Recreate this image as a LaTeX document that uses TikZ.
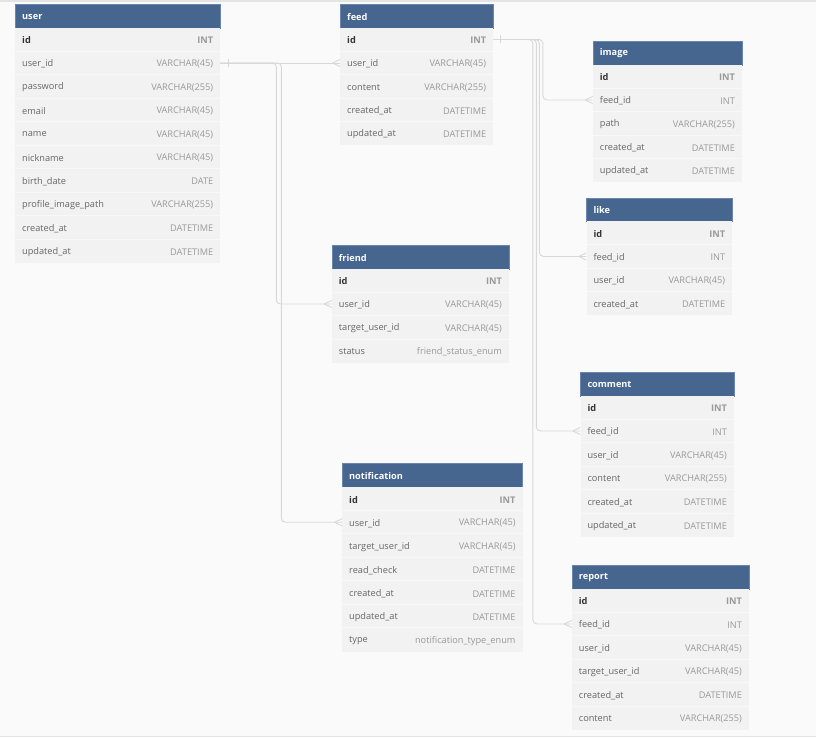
\documentclass[tikz,border=0pt]{standalone}
\usepackage{fontspec}
\setmainfont{Open Sans}
\definecolor{bgc}{HTML}{FAFAFA}
\definecolor{hdrc}{HTML}{46658F}
\definecolor{hdrb}{HTML}{6A86AD}
\definecolor{rowc}{HTML}{F2F2F2}
\definecolor{sepc}{HTML}{F8F8F8}
\definecolor{namec}{HTML}{666666}
\definecolor{typec}{HTML}{999999}
\definecolor{idc}{HTML}{333333}
\definecolor{connc}{HTML}{D8D8D8}
\definecolor{edgec}{HTML}{E4E4E4}
\tikzset{
  hdr/.style={rectangle, fill=hdrc, draw=hdrb, line width=0.6pt, minimum height=23.5pt, inner sep=0pt},
  hdrtext/.style={inner sep=0pt, text=white, font=\fontsize{9.2}{11}\selectfont\bfseries},
  rowbox/.style={rectangle, fill=rowc, minimum height=23.5pt, inner sep=0pt},
  fname/.style={inner sep=0pt, text=namec, font=\fontsize{9.2}{11}\selectfont},
  ftype/.style={inner sep=0pt, text=typec, font=\fontsize{9.2}{11}\selectfont},
  sepline/.style={draw=sepc, line width=0.8pt},
  conn/.style={draw=connc, line width=0.9pt},
  rconn/.style={conn, rounded corners=4pt}
}
\newcommand\erdtab[6]{%
  \pgfmathsetmacro\tw{#3-#2}%
  \node[hdr, minimum width=\tw pt, anchor=north west] (#1) at (#2,#4) {};
  \node[hdrtext, anchor=west] (#1-title) at ([xshift=7pt, yshift=-0.5pt]#1.west) {#5};
  \foreach \nm/\ty [count=\i] in {#6} {
    \pgfmathsetmacro\yy{#4+23.5*\i}
    \node[rowbox, minimum width=\tw pt, anchor=north west] (#1-\i) at (#2,\yy) {};
    \ifnum\i>1 \draw[sepline] (#1-\i.north west) -- (#1-\i.north east);\fi
    \node[fname, anchor=west] (#1-\i-n) at ([xshift=7pt, yshift=-1pt]#1-\i.west) {\ifnum\i=1 \bfseries\color{idc}\fi\nm};
    \node[ftype, anchor=east] (#1-\i-t) at ([xshift=-7pt, yshift=-1pt]#1-\i.east) {\ifnum\i=1 \bfseries\fi\ty};
  }
}
\newcommand\crowat[1]{%
  \draw[conn] ([xshift=-7.5pt]#1.west) -- ([yshift=3.5pt]#1.west)
              ([xshift=-7.5pt]#1.west) -- ([yshift=-3.5pt]#1.west);}
\newcommand\tickat[2]{%
  \draw[conn] ([xshift=#2pt, yshift=4pt]#1.east) -- ([xshift=#2pt, yshift=-4pt]#1.east);}
\begin{document}
\begin{tikzpicture}[x=1pt,y=-1pt]
\useasboundingbox (0,0) rectangle (816,737);
\fill[bgc] (0,0) rectangle (816,737);
\fill[edgec] (0,0) rectangle (816,2);
\draw[edgec, line width=0.8pt] (0,736) -- (816,736);

\erdtab{user}{15}{220}{4}{user}{id/INT, user\_id/VARCHAR(45), password/VARCHAR(255), email/VARCHAR(45), name/VARCHAR(45), nickname/VARCHAR(45), birth\_date/DATE, profile\_image\_path/VARCHAR(255), created\_at/DATETIME, updated\_at/DATETIME}
\erdtab{feed}{340}{493}{4}{feed}{id/INT, user\_id/VARCHAR(45), content/VARCHAR(255), created\_at/DATETIME, updated\_at/DATETIME}
\erdtab{image}{592.7}{741.7}{41}{image}{id/INT, feed\_id/INT, path/VARCHAR(255), created\_at/DATETIME, updated\_at/DATETIME}
\erdtab{like}{586.3}{732}{197.5}{like}{id/INT, feed\_id/INT, user\_id/VARCHAR(45), created\_at/DATETIME}
\erdtab{friend}{331.7}{508.7}{245}{friend}{id/INT, user\_id/VARCHAR(45), target\_user\_id/VARCHAR(45), status/friend\_status\_enum}
\erdtab{comment}{580.3}{733.7}{372}{comment}{id/INT, feed\_id/INT, user\_id/VARCHAR(45), content/VARCHAR(255), created\_at/DATETIME, updated\_at/DATETIME}
\erdtab{notification}{342}{522.3}{463.3}{notification}{id/INT, user\_id/VARCHAR(45), target\_user\_id/VARCHAR(45), read\_check/DATETIME, created\_at/DATETIME, updated\_at/DATETIME, type/notification\_type\_enum}
\erdtab{report}{571.7}{748.7}{565}{report}{id/INT, feed\_id/INT, user\_id/VARCHAR(45), target\_user\_id/VARCHAR(45), created\_at/DATETIME, content/VARCHAR(255)}

% user.user_id -> feed, friend, notification
\draw[conn] (user-2.east) -- (feed-2.west);
\draw[rconn] (user-2.east) -- ++(56,0) |- (friend-2.west);
\draw[rconn] (user-2.east) -- ++(61,0) |- (notification-2.west);
\tickat{user-2}{8}
\crowat{feed-2}
\crowat{friend-2}
\crowat{notification-2}

% feed.id -> image, like, comment, report
\draw[rconn] (feed-1.east) -- ++(39.5,0) |- (report-2.west);
\draw[rconn] (feed-1.east) -- ++(43,0) |- (comment-2.west);
\draw[rconn] (feed-1.east) -- ++(46,0) |- (like-2.west);
\draw[rconn] (feed-1.east) -- ++(49.5,0) |- (image-2.west);
\tickat{feed-1}{7.5}
\crowat{image-2}
\crowat{like-2}
\crowat{comment-2}
\crowat{report-2}
\end{tikzpicture}
\end{document}
